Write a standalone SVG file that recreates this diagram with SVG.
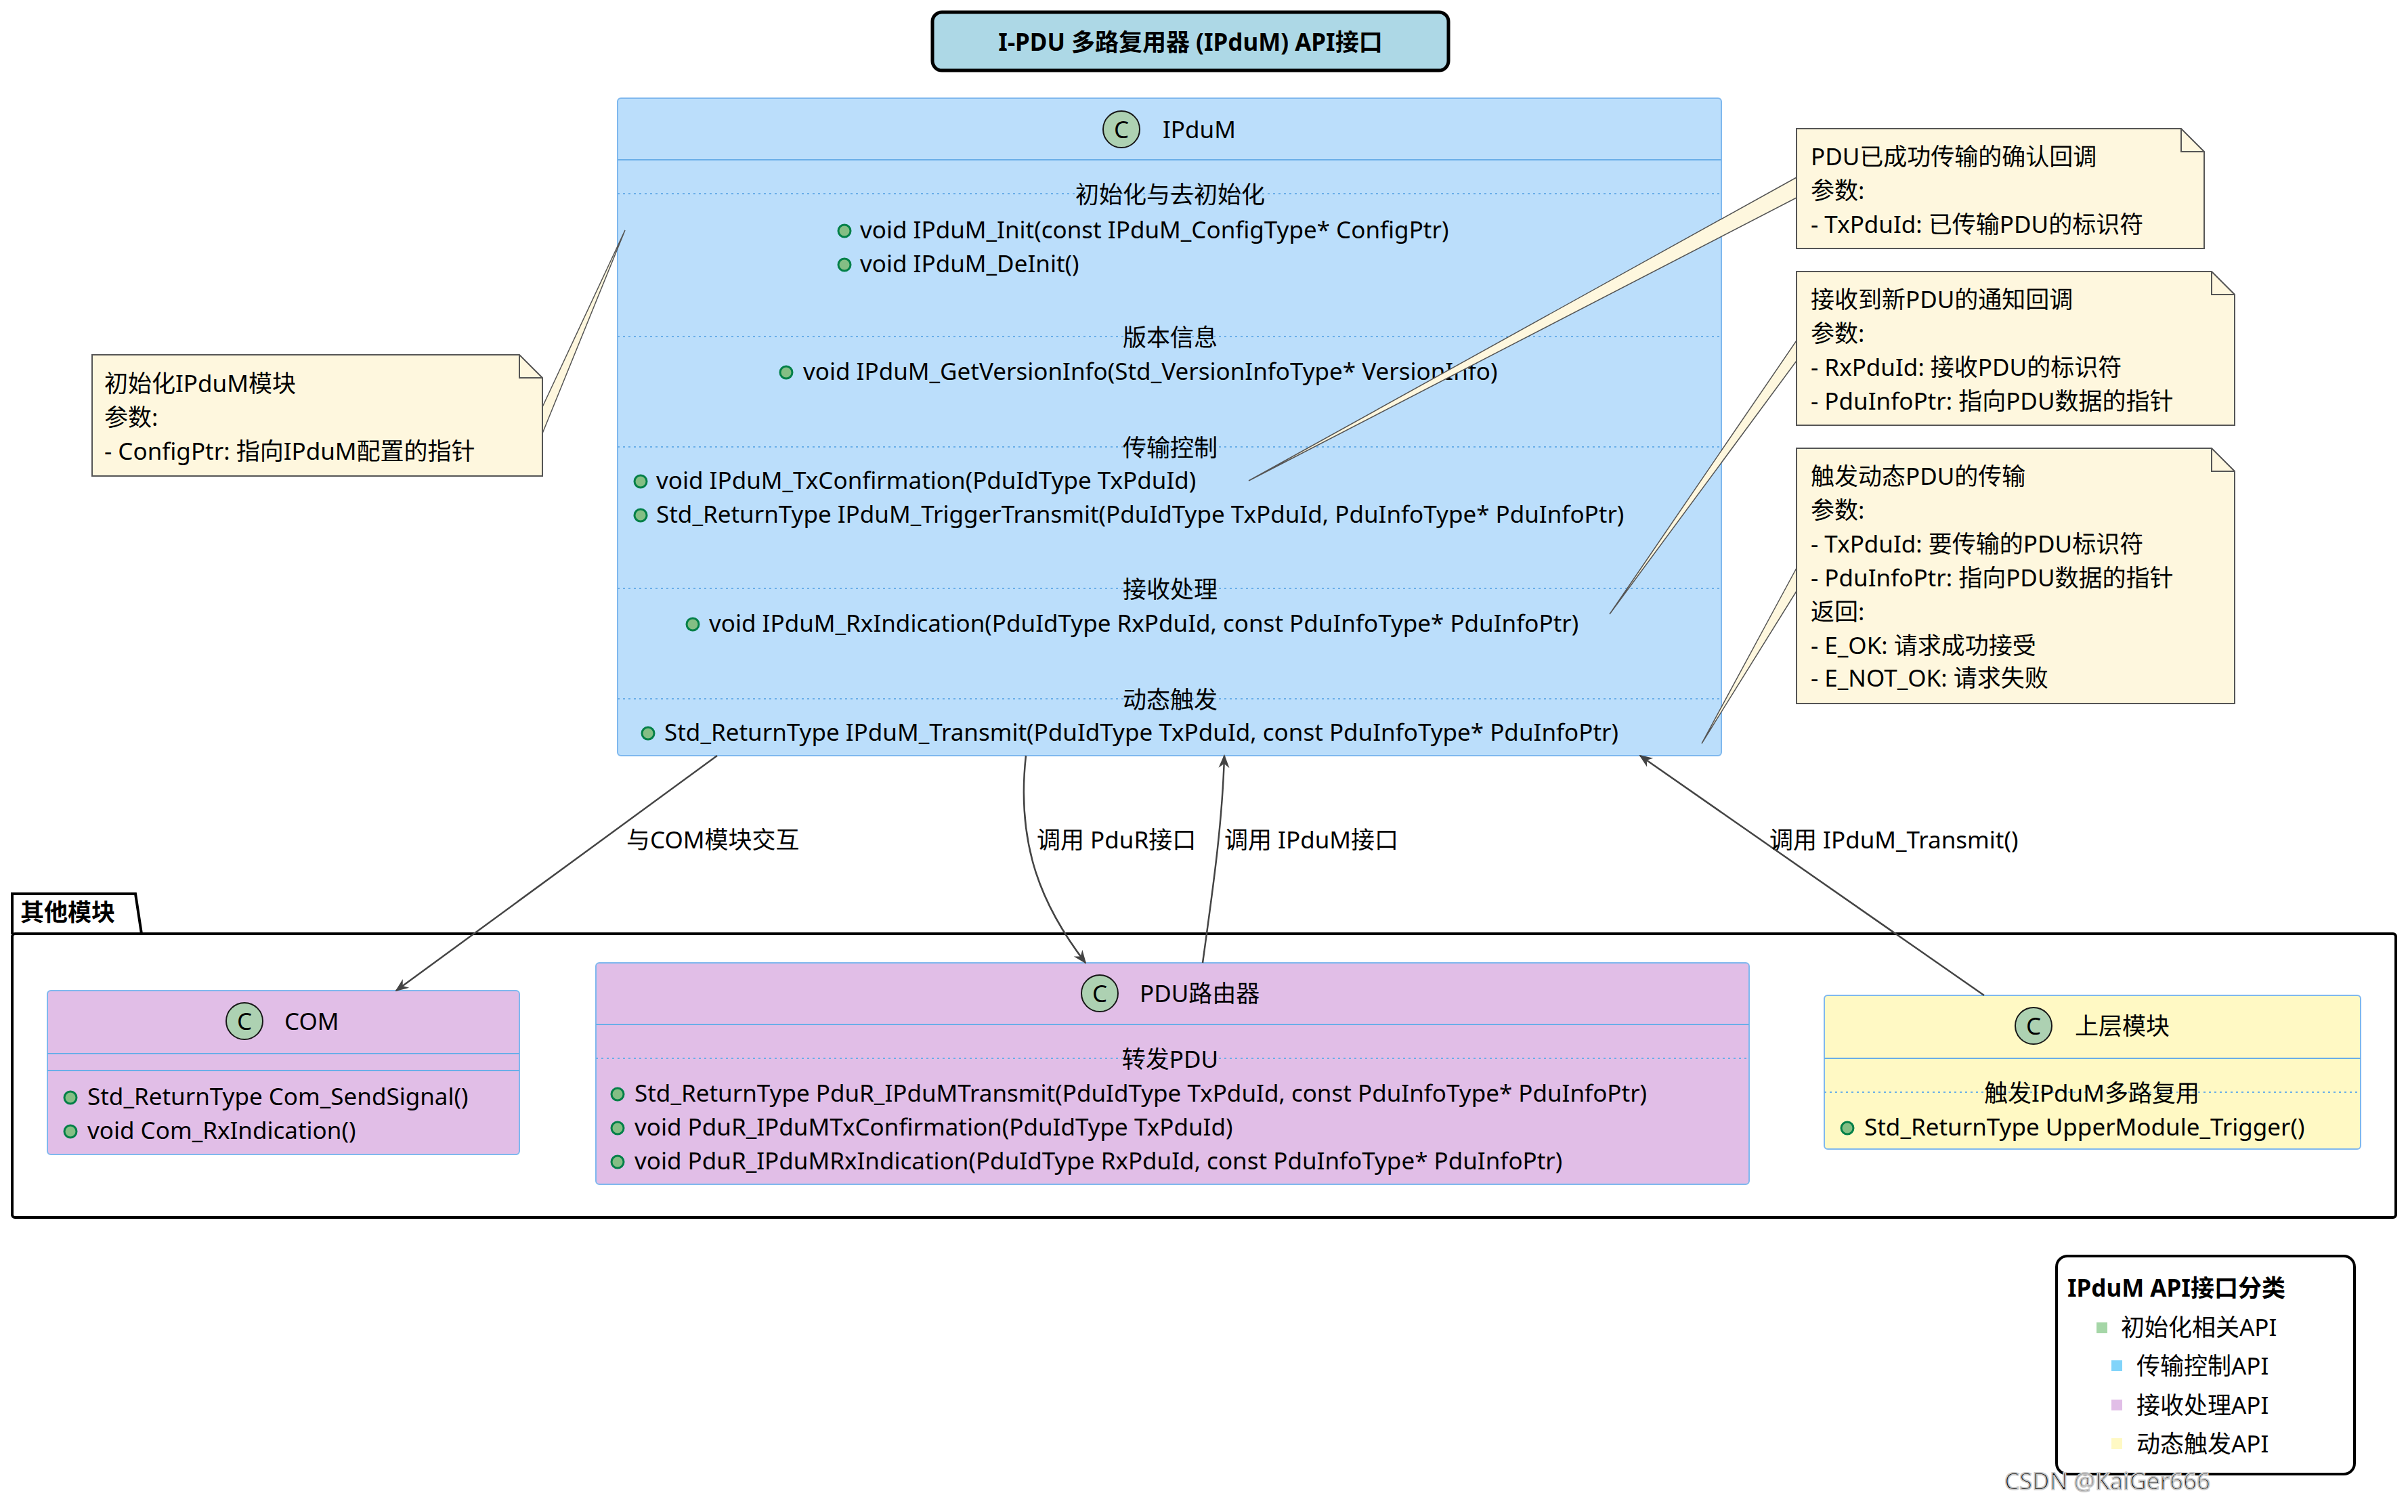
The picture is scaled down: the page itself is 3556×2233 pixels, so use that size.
<svg xmlns="http://www.w3.org/2000/svg" width="3556" height="2233" viewBox="0 0 3556 2233">
<defs>
<style>
text{font-family:"Noto Sans","Liberation Sans","Noto Sans CJK SC",sans-serif;font-size:35px;fill:#000}
.c{text-anchor:middle}
.b{font-weight:bold}
.cls{stroke:#7fb8ee;stroke-width:2}
.dot{stroke:#6aaee8;stroke-width:2;stroke-dasharray:3 5}
.hl{stroke:#6aaee8;stroke-width:2}
.m{fill:#84be84;stroke:#038048;stroke-width:3}
.ci{fill:#add1b2;stroke:#181818;stroke-width:2}
.note{fill:#fef7de;stroke:#555;stroke-width:2}
.wedge{fill:#fef7de;stroke:#555;stroke-width:1.5}
.edge{fill:none;stroke:#444;stroke-width:2.5}
</style>
<marker id="ah" viewBox="0 0 20 20" refX="18" refY="10" markerWidth="20" markerHeight="20" markerUnits="userSpaceOnUse" orient="auto">
<path d="M0,2 L20,10 L0,18 L6,10 Z" fill="#444"/>
</marker>
</defs>
<rect width="3556" height="2233" fill="#fff"/>

<g id="title">
<rect x="1377" y="18" width="762" height="86" rx="14" fill="#add8e6" stroke="#000" stroke-width="5"/>
<text class="c b" x="1758" y="75" font-size="43">I-PDU 多路复用器 (IPduM) API接口</text>
</g>

<g id="package">
<path d="M18,1379 L18,1320 L200,1320 L209,1379" fill="none" stroke="#000" stroke-width="4"/>
<rect x="18" y="1379" width="3520" height="419" rx="4" fill="none" stroke="#000" stroke-width="4"/>
<text class="b" x="30" y="1360" font-size="33">其他模块</text>
</g>

<g id="IPduM">
<rect x="912" y="145" width="1630" height="971" rx="5" fill="#bbdefb" class="cls"/>
<line x1="912" y1="236" x2="2542" y2="236" class="hl"/>
<circle cx="1656" cy="191" r="27" class="ci"/>
<text class="c" x="1656" y="204" font-size="34" font-family="Liberation Mono">C</text>
<text x="1717" y="204">IPduM</text>
<line x1="912" y1="286" x2="2542" y2="286" class="dot"/>
<text class="c" x="1728" y="300">初始化与去初始化</text>
<circle cx="1247" cy="341" r="9" class="m"/><text x="1270" y="352">void IPduM_Init(const IPduM_ConfigType* ConfigPtr)</text>
<circle cx="1247" cy="391" r="9" class="m"/><text x="1270" y="402">void IPduM_DeInit()</text>
<line x1="912" y1="497" x2="2542" y2="497" class="dot"/>
<text class="c" x="1728" y="511">版本信息</text>
<circle cx="1161" cy="550" r="9" class="m"/><text x="1186" y="561">void IPduM_GetVersionInfo(Std_VersionInfoType* VersionInfo)</text>
<line x1="912" y1="660" x2="2542" y2="660" class="dot"/>
<text class="c" x="1728" y="674">传输控制</text>
<circle cx="946" cy="711" r="9" class="m"/><text x="969" y="722">void IPduM_TxConfirmation(PduIdType TxPduId)</text>
<circle cx="946" cy="761" r="9" class="m"/><text x="969" y="772">Std_ReturnType IPduM_TriggerTransmit(PduIdType TxPduId, PduInfoType* PduInfoPtr)</text>
<line x1="912" y1="869" x2="2542" y2="869" class="dot"/>
<text class="c" x="1728" y="883">接收处理</text>
<circle cx="1023" cy="922" r="9" class="m"/><text x="1047" y="933">void IPduM_RxIndication(PduIdType RxPduId, const PduInfoType* PduInfoPtr)</text>
<line x1="912" y1="1032" x2="2542" y2="1032" class="dot"/>
<text class="c" x="1728" y="1046">动态触发</text>
<circle cx="957" cy="1083" r="9" class="m"/><text x="981" y="1094">Std_ReturnType IPduM_Transmit(PduIdType TxPduId, const PduInfoType* PduInfoPtr)</text>
</g>

<g id="note-init">
<polygon points="801,601 923,340 801,640" class="wedge"/>
<path d="M136,524 L767,524 L801,558 L801,703 L136,703 Z" class="note"/>
<path d="M767,524 L767,558 L801,558" fill="none" stroke="#555" stroke-width="2"/>
<text x="154" y="579">初始化IPduM模块</text>
<text x="154" y="629">参数:</text>
<text x="154" y="679">- ConfigPtr: 指向IPduM配置的指针</text>
</g>

<g id="note-txconf">
<polygon points="2653,262 1844,710 2653,292" class="wedge"/>
<path d="M2653,190 L3221,190 L3255,224 L3255,367 L2653,367 Z" class="note"/>
<path d="M3221,190 L3221,224 L3255,224" fill="none" stroke="#555" stroke-width="2"/>
<text x="2674" y="244">PDU已成功传输的确认回调</text>
<text x="2674" y="294">参数:</text>
<text x="2674" y="344">- TxPduId: 已传输PDU的标识符</text>
</g>

<g id="note-rxind">
<polygon points="2653,503 2377,907 2653,533" class="wedge"/>
<path d="M2653,401 L3266,401 L3300,435 L3300,628 L2653,628 Z" class="note"/>
<path d="M3266,401 L3266,435 L3300,435" fill="none" stroke="#555" stroke-width="2"/>
<text x="2674" y="455">接收到新PDU的通知回调</text>
<text x="2674" y="505">参数:</text>
<text x="2674" y="555">- RxPduId: 接收PDU的标识符</text>
<text x="2674" y="605">- PduInfoPtr: 指向PDU数据的指针</text>
</g>

<g id="note-transmit">
<polygon points="2653,839 2513,1098 2653,873" class="wedge"/>
<path d="M2653,662 L3266,662 L3300,696 L3300,1039 L2653,1039 Z" class="note"/>
<path d="M3266,662 L3266,696 L3300,696" fill="none" stroke="#555" stroke-width="2"/>
<text x="2674" y="716">触发动态PDU的传输</text>
<text x="2674" y="766">参数:</text>
<text x="2674" y="816">- TxPduId: 要传输的PDU标识符</text>
<text x="2674" y="866">- PduInfoPtr: 指向PDU数据的指针</text>
<text x="2674" y="916">返回:</text>
<text x="2674" y="966">- E_OK: 请求成功接受</text>
<text x="2674" y="1014">- E_NOT_OK: 请求失败</text>
</g>

<g id="COM">
<rect x="70" y="1463" width="697" height="242" rx="5" fill="#e1bee7" class="cls"/>
<line x1="70" y1="1556" x2="767" y2="1556" class="hl"/>
<line x1="70" y1="1581" x2="767" y2="1581" class="hl"/>
<circle cx="361" cy="1508" r="27" class="ci"/>
<text class="c" x="361" y="1521" font-size="34" font-family="Liberation Mono">C</text>
<text x="420" y="1521">COM</text>
<circle cx="104" cy="1621" r="9" class="m"/><text x="129" y="1632">Std_ReturnType Com_SendSignal()</text>
<circle cx="104" cy="1671" r="9" class="m"/><text x="129" y="1682">void Com_RxIndication()</text>
</g>

<g id="PduR">
<rect x="880" y="1422" width="1703" height="327" rx="5" fill="#e1bee7" class="cls"/>
<line x1="880" y1="1513" x2="2583" y2="1513" class="hl"/>
<circle cx="1624" cy="1467" r="27" class="ci"/>
<text class="c" x="1624" y="1480" font-size="34" font-family="Liberation Mono">C</text>
<text x="1683" y="1480">PDU路由器</text>
<line x1="880" y1="1563" x2="2583" y2="1563" class="dot"/>
<text class="c" x="1728" y="1577">转发PDU</text>
<circle cx="912" cy="1616" r="9" class="m"/><text x="937" y="1627">Std_ReturnType PduR_IPduMTransmit(PduIdType TxPduId, const PduInfoType* PduInfoPtr)</text>
<circle cx="912" cy="1666" r="9" class="m"/><text x="937" y="1677">void PduR_IPduMTxConfirmation(PduIdType TxPduId)</text>
<circle cx="912" cy="1716" r="9" class="m"/><text x="937" y="1727">void PduR_IPduMRxIndication(PduIdType RxPduId, const PduInfoType* PduInfoPtr)</text>
</g>

<g id="Upper">
<rect x="2694" y="1470" width="792" height="227" rx="5" fill="#fff9c4" class="cls"/>
<line x1="2694" y1="1563" x2="3486" y2="1563" class="hl"/>
<circle cx="3003" cy="1515" r="27" class="ci"/>
<text class="c" x="3003" y="1528" font-size="34" font-family="Liberation Mono">C</text>
<text x="3064" y="1528">上层模块</text>
<line x1="2694" y1="1613" x2="3486" y2="1613" class="dot"/>
<text class="c" x="3089" y="1627">触发IPduM多路复用</text>
<circle cx="2728" cy="1666" r="9" class="m"/><text x="2753" y="1677">Std_ReturnType UpperModule_Trigger()</text>
</g>

<g id="connectors">
<path class="edge" d="M1059,1116 L585,1463" marker-end="url(#ah)"/>
<text x="925" y="1253">与COM模块交互</text>
<path class="edge" d="M1515,1116 C1500,1250 1540,1340 1603,1422" marker-end="url(#ah)"/>
<text x="1531" y="1253">调用 PduR接口</text>
<path class="edge" d="M1776,1422 C1790,1320 1805,1220 1808,1116" marker-end="url(#ah)"/>
<text x="1808" y="1253">调用 IPduM接口</text>
<path class="edge" d="M2930,1470 L2422,1116" marker-end="url(#ah)"/>
<text x="2613" y="1253">调用 IPduM_Transmit()</text>
</g>

<g id="legend">
<rect x="3037" y="1855" width="440" height="322" rx="16" fill="#fff" stroke="#000" stroke-width="4"/>
<text class="b" x="3053" y="1915" font-size="42">IPduM API接口分类</text>
<rect x="3096" y="1953" width="16" height="16" fill="#a5d6a7"/><text x="3132" y="1973" font-size="42">初始化相关API</text>
<rect x="3118" y="2009" width="16" height="16" fill="#81d4fa"/><text x="3155" y="2030" font-size="42">传输控制API</text>
<rect x="3118" y="2067" width="16" height="16" fill="#e1bee7"/><text x="3155" y="2088" font-size="42">接收处理API</text>
<rect x="3118" y="2124" width="16" height="16" fill="#fff9c4"/><text x="3155" y="2145" font-size="42">动态触发API</text>
</g>

<text x="2960" y="2200" font-size="60" fill="#ffffff" stroke="#c8c8c8" stroke-width="2">CSDN @KaiGer666</text>
</svg>
